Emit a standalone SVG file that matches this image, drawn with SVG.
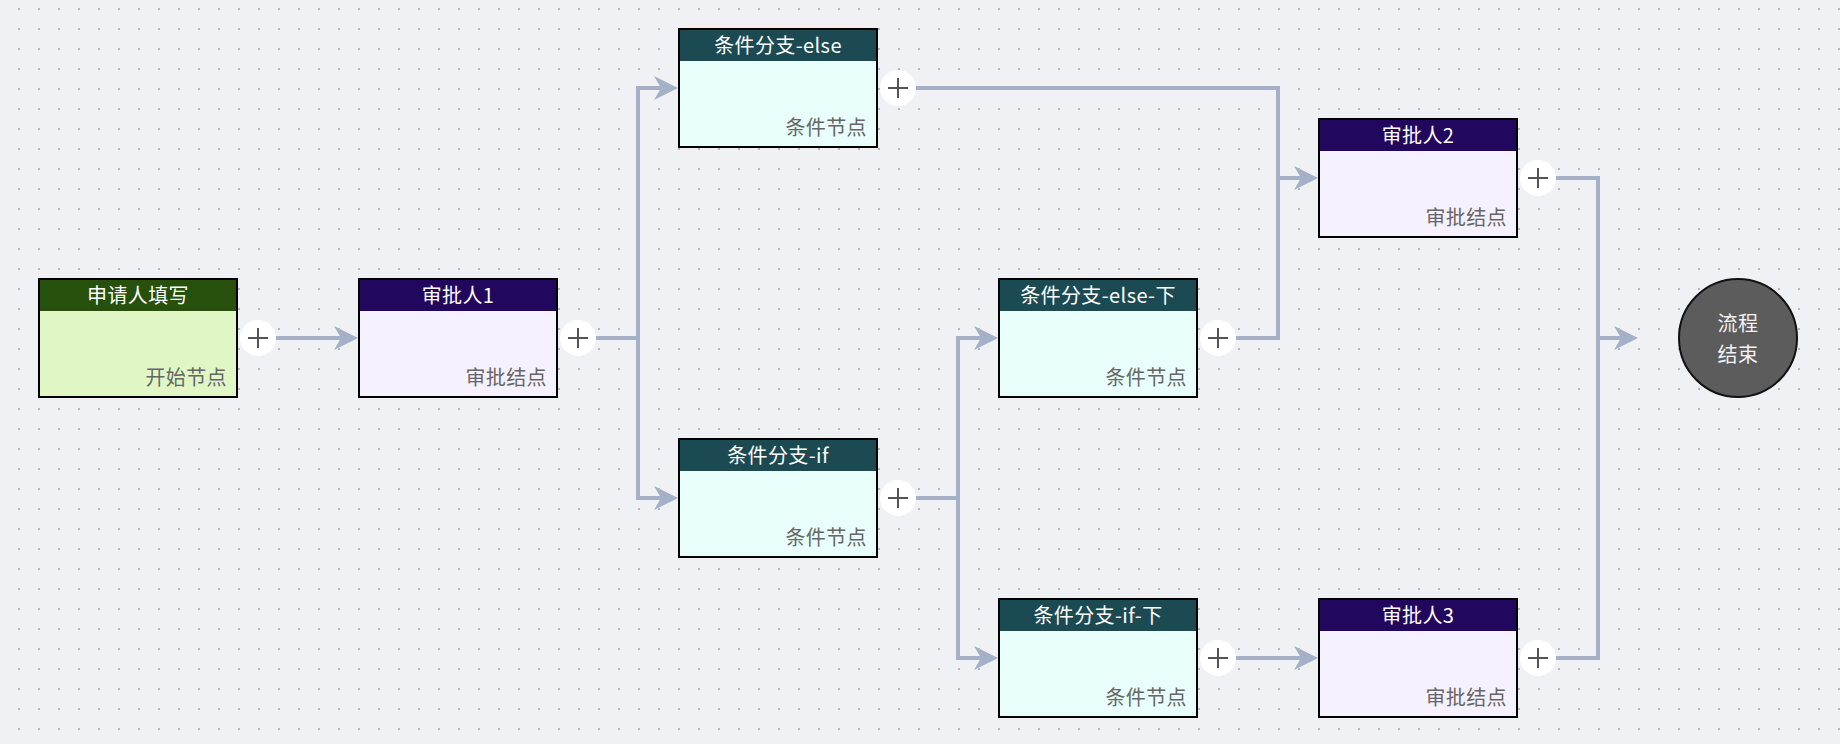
<svg xmlns="http://www.w3.org/2000/svg" width="1840" height="744" viewBox="0 0 1840 744">
<defs>
<pattern id="dots" x="0" y="0" width="20" height="20" patternUnits="userSpaceOnUse">
<rect x="18" y="8" width="2" height="2" fill="#b5b6ba"/>
</pattern>
<marker id="arr" markerUnits="userSpaceOnUse" markerWidth="24" markerHeight="24" refX="10" refY="12" orient="auto">
<path d="M0,0 L24,12 L0,24 L7,12 Z" fill="#a4b0c6"/>
</marker>
<style>
.txt{font-family:"Noto Sans CJK SC","Noto Sans",sans-serif;font-size:20px;letter-spacing:0.4px}
.title{fill:#ffffff;text-anchor:middle}
.foot{fill:#666666;text-anchor:end}
.border{fill:none;stroke:#000;stroke-width:2}
.plusc{fill:#ffffff}
.plus{stroke:#555555;stroke-width:2;fill:none}
.conn{fill:none;stroke:#a4b0c6;stroke-width:4;stroke-linejoin:miter}
.g-h{fill:#26500b}.g-b{fill:#e0f7c5}
.p-h{fill:#22075e}.p-b{fill:#f6f1fe}
.t-h{fill:#1c4a52}.t-b{fill:#e8fffb}
</style>
</defs>
<rect width="1840" height="744" fill="#f0f1f5"/>
<rect width="1840" height="744" fill="url(#dots)"/>

<g id="connectors">
<path class="conn" d="M276,338 H344" marker-end="url(#arr)"/>
<path class="conn" d="M596,338 H638 V88 H664" marker-end="url(#arr)"/>
<path class="conn" d="M638,338 V498 H664" marker-end="url(#arr)"/>
<path class="conn" d="M916,88 H1278 V178 H1304" marker-end="url(#arr)"/>
<path class="conn" d="M1236,338 H1278 V178"/>
<path class="conn" d="M916,498 H958 V338 H984" marker-end="url(#arr)"/>
<path class="conn" d="M958,498 V658 H984" marker-end="url(#arr)"/>
<path class="conn" d="M1236,658 H1304" marker-end="url(#arr)"/>
<path class="conn" d="M1556,178 H1598 V658 H1556"/>
<path class="conn" d="M1598,338 H1624" marker-end="url(#arr)"/>
</g>

<g id="node-start">
<rect class="g-b" x="39" y="279" width="198" height="118"/>
<rect class="g-h" x="39" y="279" width="198" height="32"/>
<rect class="border" x="39" y="279" width="198" height="118"/>
<text class="txt title" x="138" y="303">申请人填写</text>
<text class="txt foot" x="227" y="385">开始节点</text>
<circle class="plusc" cx="258" cy="338" r="18"/>
<path class="plus" d="M248,338 H268 M258,328 V348"/>
</g>

<g id="node-approver1">
<rect class="p-b" x="359" y="279" width="198" height="118"/>
<rect class="p-h" x="359" y="279" width="198" height="32"/>
<rect class="border" x="359" y="279" width="198" height="118"/>
<text class="txt title" x="458" y="303">审批人1</text>
<text class="txt foot" x="547" y="385">审批结点</text>
<circle class="plusc" cx="578" cy="338" r="18"/>
<path class="plus" d="M568,338 H588 M578,328 V348"/>
</g>

<g id="node-cond-else">
<rect class="t-b" x="679" y="29" width="198" height="118"/>
<rect class="t-h" x="679" y="29" width="198" height="32"/>
<rect class="border" x="679" y="29" width="198" height="118"/>
<text class="txt title" x="778" y="53">条件分支-else</text>
<text class="txt foot" x="867" y="135">条件节点</text>
<circle class="plusc" cx="898" cy="88" r="18"/>
<path class="plus" d="M888,88 H908 M898,78 V98"/>
</g>

<g id="node-cond-if">
<rect class="t-b" x="679" y="439" width="198" height="118"/>
<rect class="t-h" x="679" y="439" width="198" height="32"/>
<rect class="border" x="679" y="439" width="198" height="118"/>
<text class="txt title" x="778" y="463">条件分支-if</text>
<text class="txt foot" x="867" y="545">条件节点</text>
<circle class="plusc" cx="898" cy="498" r="18"/>
<path class="plus" d="M888,498 H908 M898,488 V508"/>
</g>

<g id="node-cond-else-down">
<rect class="t-b" x="999" y="279" width="198" height="118"/>
<rect class="t-h" x="999" y="279" width="198" height="32"/>
<rect class="border" x="999" y="279" width="198" height="118"/>
<text class="txt title" x="1098" y="303">条件分支-else-下</text>
<text class="txt foot" x="1187" y="385">条件节点</text>
<circle class="plusc" cx="1218" cy="338" r="18"/>
<path class="plus" d="M1208,338 H1228 M1218,328 V348"/>
</g>

<g id="node-cond-if-down">
<rect class="t-b" x="999" y="599" width="198" height="118"/>
<rect class="t-h" x="999" y="599" width="198" height="32"/>
<rect class="border" x="999" y="599" width="198" height="118"/>
<text class="txt title" x="1098" y="623">条件分支-if-下</text>
<text class="txt foot" x="1187" y="705">条件节点</text>
<circle class="plusc" cx="1218" cy="658" r="18"/>
<path class="plus" d="M1208,658 H1228 M1218,648 V668"/>
</g>

<g id="node-approver2">
<rect class="p-b" x="1319" y="119" width="198" height="118"/>
<rect class="p-h" x="1319" y="119" width="198" height="32"/>
<rect class="border" x="1319" y="119" width="198" height="118"/>
<text class="txt title" x="1418" y="143">审批人2</text>
<text class="txt foot" x="1507" y="225">审批结点</text>
<circle class="plusc" cx="1538" cy="178" r="18"/>
<path class="plus" d="M1528,178 H1548 M1538,168 V188"/>
</g>

<g id="node-approver3">
<rect class="p-b" x="1319" y="599" width="198" height="118"/>
<rect class="p-h" x="1319" y="599" width="198" height="32"/>
<rect class="border" x="1319" y="599" width="198" height="118"/>
<text class="txt title" x="1418" y="623">审批人3</text>
<text class="txt foot" x="1507" y="705">审批结点</text>
<circle class="plusc" cx="1538" cy="658" r="18"/>
<path class="plus" d="M1528,658 H1548 M1538,648 V668"/>
</g>

<g id="node-end">
<circle cx="1738" cy="338" r="59" fill="#5c5c5c" stroke="#111" stroke-width="2"/>
<text class="txt" x="1738" y="331" fill="#f2f2f2" text-anchor="middle">流程</text>
<text class="txt" x="1738" y="362" fill="#f2f2f2" text-anchor="middle">结束</text>
</g>
</svg>
